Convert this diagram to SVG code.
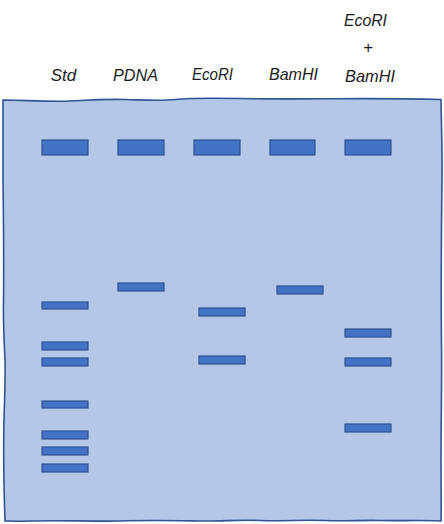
<svg xmlns="http://www.w3.org/2000/svg" width="444" height="524" viewBox="0 0 444 524">
<style>
.lbl{font-family:"Liberation Sans","DejaVu Sans",sans-serif;font-size:17px;fill:#1a1a1a;text-anchor:middle;font-style:italic}
.gel{fill:#B4C7E7;stroke:#2F5597;stroke-width:1.6}
.band{fill:#4472C4;stroke:#2F528F;stroke-width:1.2}
</style>
<rect width="444" height="524" fill="#ffffff"/>
<g id="labels">
<text class="lbl" x="63.5" y="81" font-size="19">Std</text>
<text class="lbl" x="135.5" y="81" textLength="45" lengthAdjust="spacingAndGlyphs">PDNA</text>
<text class="lbl" x="212.5" y="80" textLength="41" lengthAdjust="spacingAndGlyphs">EcoRI</text>
<text class="lbl" x="293.5" y="80" textLength="49" lengthAdjust="spacingAndGlyphs">BamHI</text>
<text class="lbl" x="365.5" y="26" textLength="43" lengthAdjust="spacingAndGlyphs">EcoRI</text>
<text class="lbl" x="368" y="53" font-size="14">+</text>
<text class="lbl" x="370" y="82" textLength="50" lengthAdjust="spacingAndGlyphs">BamHI</text>
</g>
<g id="gel">
<path class="gel" d="M3,100 C25,100 45,102 70,101 C90,100 100,99 125,99.5 C145,100 160,101 175,99.5 C190,98 215,98 240,98.5 C270,99 300,99 330,98.8 C370,98.5 400,98.5 441,99.5 C441.5,130 442.5,160 442,180 C441.5,220 441,300 441.5,345 C442,380 441,420 441,460 C441,490 441.5,510 441,521 C420,520 400,521 380,520.5 C360,520 345,521.5 325,520.5 C300,519.5 285,521.5 260,520.5 C240,519.5 220,521.5 200,521 C170,520.5 150,520 120,521 C90,521.5 60,520 30,521 C15,521.5 8,521 5,521 C4,490 3,460 4,420 C4.5,400 5.5,380 5,360 C4,340 3,320 3.5,300 C4,260 3.5,220 3,180 C3,150 3,120 3,100 Z"/>
</g>
<g id="lane-std">
<rect class="band" x="42" y="140" width="46" height="15"/>
<rect class="band" x="42" y="302" width="46" height="7"/>
<rect class="band" x="42" y="342" width="46" height="8"/>
<rect class="band" x="42" y="358" width="46" height="8"/>
<rect class="band" x="42" y="401" width="46" height="7"/>
<rect class="band" x="42" y="431" width="46" height="8"/>
<rect class="band" x="42" y="447" width="46" height="8"/>
<rect class="band" x="42" y="464" width="46" height="8"/>
</g>
<g id="lane-pdna">
<rect class="band" x="118" y="140" width="46" height="15"/>
<rect class="band" x="118" y="283" width="46" height="8"/>
</g>
<g id="lane-ecori">
<rect class="band" x="194" y="140" width="46" height="15"/>
<rect class="band" x="199" y="308" width="46" height="8"/>
<rect class="band" x="199" y="356" width="46" height="8"/>
</g>
<g id="lane-bamhi">
<rect class="band" x="270" y="140" width="45" height="15"/>
<rect class="band" x="277" y="286" width="46" height="8"/>
</g>
<g id="lane-ecori-bamhi">
<rect class="band" x="345" y="140" width="46" height="15"/>
<rect class="band" x="345" y="329" width="46" height="8"/>
<rect class="band" x="345" y="358" width="46" height="8"/>
<rect class="band" x="345" y="424" width="46" height="8"/>
</g>
<g id="connectors"/>
</svg>
